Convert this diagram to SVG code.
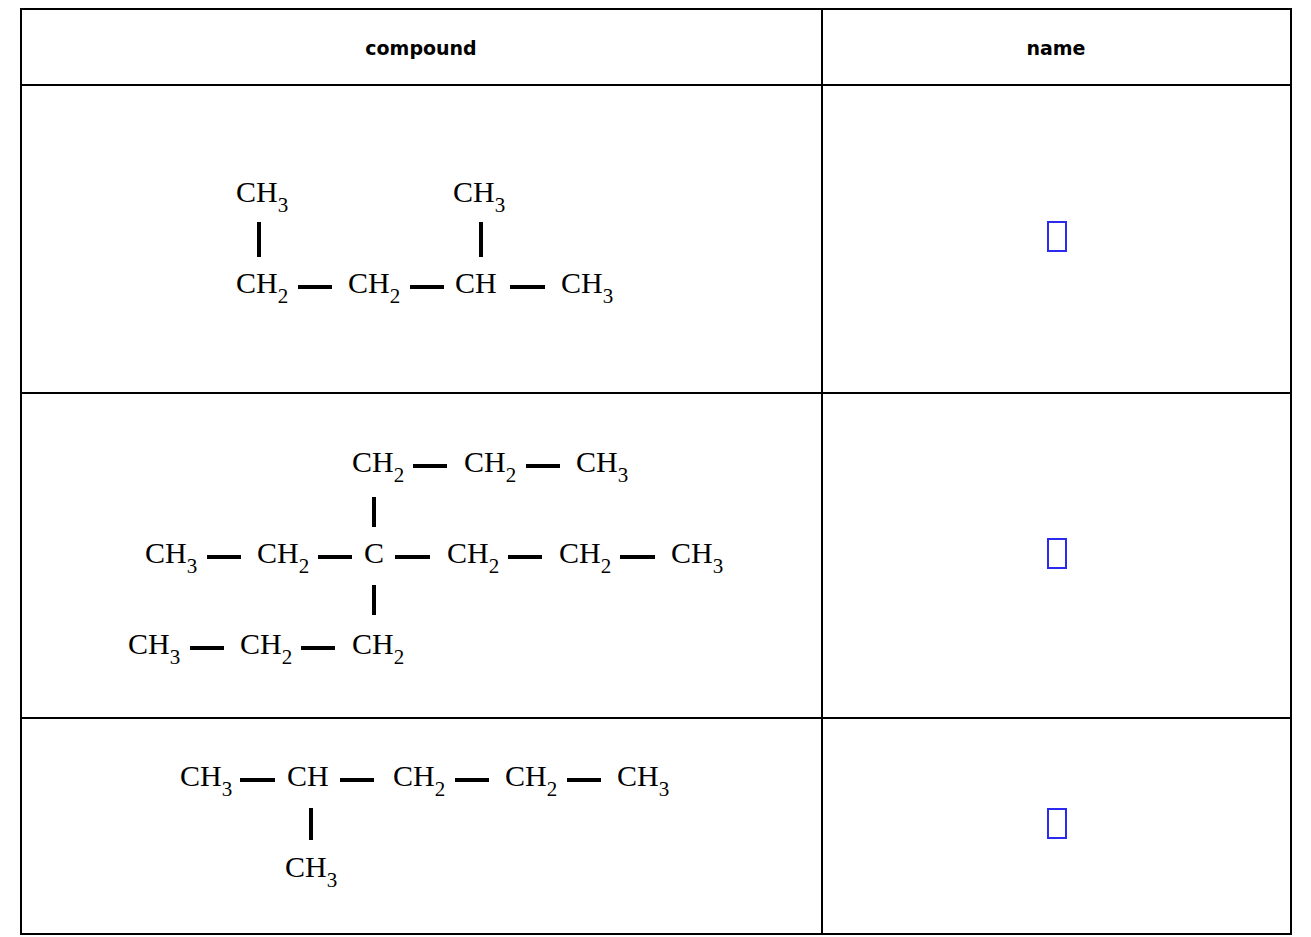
<svg xmlns="http://www.w3.org/2000/svg" width="1311" height="937" viewBox="0 0 1311 937">
<style>
.g{stroke:#000;stroke-width:2;fill:none}
.h{font-family:"DejaVu Sans",sans-serif;font-weight:bold;font-size:19px;text-anchor:middle}
.c{font-family:"Liberation Serif",serif;font-size:30px}
.s{font-size:21px}
.b{stroke:#000;stroke-width:4}
.box{fill:none;stroke:#2b2bf0;stroke-width:2}
</style>
<rect width="1311" height="937" fill="#fff"/>
<g id="grid" class="g">
<rect x="21" y="9" width="1270" height="925"/>
<line x1="822" y1="9" x2="822" y2="934"/>
<line x1="21" y1="85" x2="1291" y2="85"/>
<line x1="21" y1="393" x2="1291" y2="393"/>
<line x1="21" y1="718" x2="1291" y2="718"/>
</g>
<g id="headers"><text class="h" x="421" y="55">compound</text><text class="h" x="1056" y="55">name</text></g>
<g id="compound1" class="c">
<text x="236" y="202">CH<tspan class="s" dy="10">3</tspan></text>
<text x="453" y="202">CH<tspan class="s" dy="10">3</tspan></text>
<text x="236" y="293">CH<tspan class="s" dy="10">2</tspan></text>
<text x="348" y="293">CH<tspan class="s" dy="10">2</tspan></text>
<text x="455" y="293">CH</text>
<text x="561" y="293">CH<tspan class="s" dy="10">3</tspan></text>
</g>
<g id="compound2" class="c">
<text x="352" y="472">CH<tspan class="s" dy="10">2</tspan></text>
<text x="464" y="472">CH<tspan class="s" dy="10">2</tspan></text>
<text x="576" y="472">CH<tspan class="s" dy="10">3</tspan></text>
<text x="145" y="563">CH<tspan class="s" dy="10">3</tspan></text>
<text x="257" y="563">CH<tspan class="s" dy="10">2</tspan></text>
<text x="364" y="563">C</text>
<text x="447" y="563">CH<tspan class="s" dy="10">2</tspan></text>
<text x="559" y="563">CH<tspan class="s" dy="10">2</tspan></text>
<text x="671" y="563">CH<tspan class="s" dy="10">3</tspan></text>
<text x="128" y="654">CH<tspan class="s" dy="10">3</tspan></text>
<text x="240" y="654">CH<tspan class="s" dy="10">2</tspan></text>
<text x="352" y="654">CH<tspan class="s" dy="10">2</tspan></text>
</g>
<g id="compound3" class="c">
<text x="180" y="786">CH<tspan class="s" dy="10">3</tspan></text>
<text x="287" y="786">CH</text>
<text x="393" y="786">CH<tspan class="s" dy="10">2</tspan></text>
<text x="505" y="786">CH<tspan class="s" dy="10">2</tspan></text>
<text x="617" y="786">CH<tspan class="s" dy="10">3</tspan></text>
<text x="285" y="877">CH<tspan class="s" dy="10">3</tspan></text>
</g>
<g id="bonds" class="b">
<line x1="259" y1="222" x2="259" y2="257"/><line x1="481" y1="222" x2="481" y2="257"/>
<line x1="298" y1="287" x2="332" y2="287"/><line x1="410" y1="287" x2="444" y2="287"/><line x1="510" y1="287" x2="545" y2="287"/>
<line x1="413" y1="466" x2="447" y2="466"/><line x1="526" y1="466" x2="560" y2="466"/>
<line x1="374" y1="497" x2="374" y2="527"/><line x1="374" y1="585" x2="374" y2="615"/>
<line x1="207" y1="557" x2="241" y2="557"/><line x1="318" y1="557" x2="352" y2="557"/><line x1="395" y1="557" x2="430" y2="557"/><line x1="508" y1="557" x2="542" y2="557"/><line x1="620" y1="557" x2="655" y2="557"/>
<line x1="190" y1="648" x2="224" y2="648"/><line x1="301" y1="648" x2="335" y2="648"/>
<line x1="240" y1="780" x2="275" y2="780"/><line x1="340" y1="780" x2="374" y2="780"/><line x1="455" y1="780" x2="489" y2="780"/><line x1="567" y1="780" x2="601" y2="780"/>
<line x1="311" y1="808" x2="311" y2="840"/>
</g>
<g id="answers" class="box">
<rect x="1048" y="222" width="18" height="29"/>
<rect x="1048" y="539" width="18" height="29"/>
<rect x="1048" y="809" width="18" height="29"/>
</g>
</svg>
